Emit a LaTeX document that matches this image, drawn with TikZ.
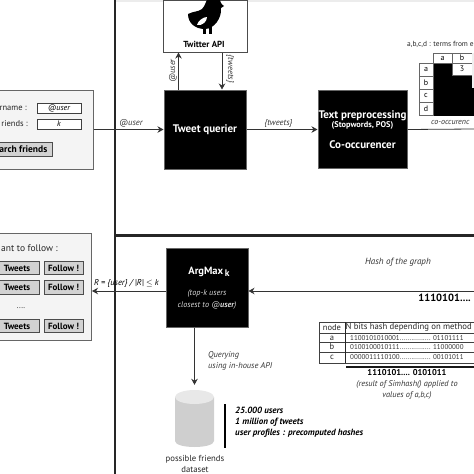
\documentclass[tikz,border=0pt]{standalone}
\usepackage{fontspec}
\setmainfont{PT Sans}
\usetikzlibrary{positioning,shapes.geometric,arrows.meta,calc}
\newcommand{\bitgap}{................}

\begin{document}
\begin{tikzpicture}[
    x=1pt,y=-1pt,
    panel/.style={
        draw=black!60,
        line width=1pt,
        fill=gray!9,
        inner sep=0pt
    },
    field/.style={
        draw=black!75,
        line width=1pt,
        fill=white,
        inner sep=0pt,
        minimum width=44pt,
        minimum height=10pt,
        font=\fontsize{8}{9}\selectfont\itshape
    },
    btn/.style={
        draw=black!70,
        line width=1pt,
        fill=gray!35,
        inner sep=0pt,
        minimum height=13.5pt,
        font=\fontsize{9}{10}\selectfont\bfseries
    },
    dark/.style={
        draw=black!60,
        line width=1pt,
        fill=black,
        text=white,
        inner sep=0pt,
        align=center
    },
    cell/.style={
        draw=black!60,
        line width=0.6pt,
        fill=white,
        inner sep=0pt,
        font=\fontsize{8}{9}\selectfont
    },
    lab/.style={inner sep=0pt,font=\fontsize{8.5}{9}\selectfont\itshape,text=black!80},
    txt/.style={inner sep=0pt,font=\fontsize{8}{9}\selectfont,text=black!85},
    arr/.style={-{Stealth[length=6pt,width=6.5pt]},line width=0.8pt,draw=black!80}
]
\useasboundingbox (0,0) rectangle (474,474);
\clip (0,0) rectangle (474,474);

% panel lines
\fill[gray!15] (115,0) rectangle (474,2);
\draw[black!85,line width=1.3pt] (115,0) -- (115,474);
\draw[black!85,line width=3pt] (115,235) -- (474,235);

% search form
\node[panel,minimum width=97pt,minimum height=79pt] (form) at (44.5,129.5) {};
\node[txt,anchor=east,font=\fontsize{8.5}{9}\selectfont] (namelab) at (27,108) {rname :};
\node[txt,anchor=east,font=\fontsize{8.5}{9}\selectfont] (friendslab) at (28,124) {riends :};
\node[field] (userfield) at (59,108) {@user};
\node[field] (kfield) at (59,124) {k};
\node[btn,minimum width=54pt] (searchbtn) at (25,149.5) {};
\node[inner sep=0pt,anchor=east,font=\fontsize{9.5}{10}\selectfont\bfseries] (searchlab) at (47.5,149.5) {arch friends};

% top row
\node[draw=black!70,line width=1pt,fill=white,minimum width=84pt,minimum height=52pt,inner sep=0pt] (api) at (205,26) {};
\node[inner sep=0pt,font=\fontsize{8.8}{10}\selectfont\bfseries] (apilab) at (204,44.5) {Twitter API};
\fill[black] (188,14) .. controls (194,11) and (198,12) .. (202,9)
    .. controls (205,6) and (206,1) .. (208,-2) -- (220,-2)
    .. controls (220,2) and (221,4) .. (224,6) -- (221,8)
    .. controls (222,18) and (214,29) .. (205,29)
    .. controls (195,29) and (188,23) .. (188,14) -- cycle;
\fill[black] (202.5,27) rectangle (205.5,33.5);
\fill[black] (208.5,27) rectangle (211.5,33.5);
\fill[white] (197,25) .. controls (198,21) and (203,17) .. (207,17)
    .. controls (207,21) and (203,26) .. (197,25) -- cycle;
\node[dark,minimum width=82pt,minimum height=79pt,font=\fontsize{11}{13}\selectfont\bfseries] (querier) at (205,129.5) {Tweet querier};
\node[dark,minimum width=89pt,minimum height=78pt] (preproc) at (362.5,129.5) {%
{\fontsize{11}{13}\selectfont\bfseries Text preprocessing}\\[-3.5pt]
{\fontsize{8.3}{9}\selectfont\bfseries (Stopwords, POS)}\\[9pt]
{\fontsize{11}{13}\selectfont\bfseries Co-occurencer}};
\coordinate (coocout) at (474,129);

\draw[arr] (form.east |- querier.west) -- (querier.west);
\draw[arr] (querier.east) -- (preproc.west);
\draw[line width=0.8pt,draw=black!80] (preproc.east) -- (coocout);
\draw[arr] ($(querier.north)+(-26.5,0)$) -- ($(api.south)+(-26.5,0)$);
\draw[arr] ($(api.south)+(17,0)$) -- ($(querier.north)+(17,0)$);

\node[lab,anchor=west] (userlab) at (119,123) {@user};
\node[lab] (tweetslab) at (278.5,123) {\{tweets\}};
\node[lab,rotate=90] (apiuser) at (173,71) {@user};
\node[lab,rotate=-90] (apitweets) at (230,69) {\{tweets\}};

% co-occurence matrix
\node[inner sep=0pt,anchor=west,font=\fontsize{7.4}{8}\selectfont,text=black!85] (termslab) at (407,44) {a,b,c,d : terms from e};
\node[fill=black,minimum width=41pt,minimum height=53pt,inner sep=0pt,anchor=north west] (cooc) at (433,63) {};
\node[cell,minimum width=19pt,minimum height=10pt] (cola) at (442.5,58) {a};
\node[cell,minimum width=20pt,minimum height=10pt] (colb) at (462,58) {b};
\node[cell,minimum width=20pt,minimum height=12.5pt] (cellab) at (462,69.2) {3};
\node[fill=gray!12,minimum width=3pt,minimum height=35pt,inner sep=0pt,anchor=north west] (colc) at (472,53) {};
\foreach \name/\ypos in {a/69.5,b/82.5,c/95.5,d/109}
    \node[cell,minimum width=14pt,minimum height=13pt] (row\name) at (426,\ypos) {\name};
\node[lab,anchor=west,font=\fontsize{8}{9}\selectfont\itshape] (cooclab) at (431,122) {co-occurenc};

% results
\node[panel,minimum width=95pt,minimum height=107pt] (results) at (44,287) {};
\node[inner sep=0pt,anchor=east,font=\fontsize{9.5}{11}\selectfont,text=black!85] (wantlab) at (58,248) {ant to follow :};
\foreach \name/\ypos in {one/268,two/287.5,three/326}{
    \node[btn,minimum width=44pt] (tweets\name) at (17,\ypos) {Tweets};
    \node[btn,minimum width=39pt] (follow\name) at (63.5,\ypos) {Follow !};
}
\node[txt] (dotslab) at (21,308) {{.}{.}{.}{.}};

% bottom row
\node[dark,minimum width=82pt,minimum height=79pt] (argmax) at (207,287.5) {};
\node[inner sep=0pt,text=white,font=\fontsize{10.5}{12}\selectfont\bfseries] (argmaxlab) at (209,272) {ArgMax\,{\raisebox{-2pt}{\fontsize{9.5}{10}\selectfont k}}};
\node[inner sep=0pt,text=white!85!black,align=center,font=\fontsize{8.2}{11.5}\selectfont\itshape] (argmaxsub) at (207,299.5) {(top-k users\\closest to @\textbf{user})};
\coordinate (hashin) at (474,291);
\draw[arr] (hashin) -- (argmax.east |- hashin);
\draw[arr] (argmax.west |- hashin) -- (results.east |- hashin);
\node[lab,anchor=east,text=black,font=\fontsize{8.5}{9}\selectfont\itshape] (rlab) at (159,283) {R = \{user\} / |R| \ensuremath{\leq} k};
\node[lab,font=\fontsize{9}{10}\selectfont\itshape] (hashlab) at (398,262) {Hash of the graph};
\node[inner sep=0pt,anchor=east,font=\fontsize{10.5}{12}\selectfont\bfseries] (hashbits) at (471,298) {1110101....};

% hash table
\node[draw=black!75,line width=0.8pt,minimum width=160pt,minimum height=41pt,inner sep=0pt,anchor=north west] (hashtab) at (319,322) {};
\draw[black!75,line width=0.8pt] (319,333) -- (474,333);
\draw[black!75,line width=0.6pt] (319,342.5) -- (474,342.5);
\draw[black!75,line width=0.6pt] (319,352) -- (474,352);
\draw[black!85,line width=1pt] (345,322) -- (345,363);
\node[txt,font=\fontsize{8.5}{9}\selectfont] (nodehead) at (332,327.5) {node};
\node[txt,anchor=west,font=\fontsize{8.7}{10}\selectfont] (bitshead) at (345.5,327.5) {N bits hash depending on method};
\foreach \name/\ypos/\bits in {a/338/1100101010001\bitgap{} 01101111,b/347/0100100010111\bitgap{} 11000000,c/357.5/0000011110100\bitgap{} 00101011}{
    \node[txt,font=\fontsize{8.5}{9}\selectfont] (node\name) at (332,\ypos) {\name};
    \node[inner sep=0pt,anchor=west,font=\fontsize{7}{8}\selectfont,text=black!80] (bits\name) at (350,\ypos) {\bits};
}
\draw[black!90,line width=1.5pt] (346,367) -- (474,367);
\node[inner sep=0pt,font=\fontsize{8.5}{10}\selectfont\bfseries] (simbits) at (407,373) {1110101.... 0101011};
\node[lab,align=center,font=\fontsize{8.3}{11}\selectfont\itshape] (simlab) at (407,389.5) {(result of Simhash() applied to\\values of a,b,c)};

% dataset
\node[minimum width=39pt,minimum height=57pt,inner sep=0pt] (dataset) at (194.5,418.5) {};
\fill[gray!38] (175,397) -- (175,441) .. controls (175,449) and (214,449) .. (214,441) -- (214,397) -- cycle;
\fill[gray!18] (194.5,397) ellipse (19.5 and 7);
\draw[arr] (argmax.south -| dataset.north) -- ($(dataset.north)+(0,5pt)$);
\node[lab,anchor=west,align=left,font=\fontsize{8.4}{10.5}\selectfont\itshape] (querylab) at (208,361) {Querying\\using in-house API};
\node[txt,align=center,font=\fontsize{8.7}{11}\selectfont] (datasetlab) at (195,463.5) {possible friends\\dataset};
\draw[black,line width=2pt] (225,404) -- (225,448);
\node[inner sep=0pt,anchor=west,align=left,font=\fontsize{9}{11}\selectfont\itshape\bfseries] (statslab) at (235,422) {25.000 users\\1 million of tweets\\user profiles : precomputed hashes};

\end{tikzpicture}
\end{document}
